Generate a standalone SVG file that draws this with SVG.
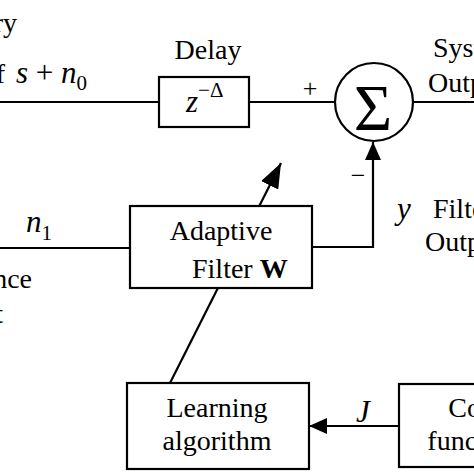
<svg xmlns="http://www.w3.org/2000/svg" width="474" height="474" viewBox="0 0 474 474">
<style>
text{font-family:"Liberation Serif","Times New Roman",Times,"DejaVu Serif",serif;fill:#000}
.t{font-size:28px}
.m{font-size:31px}
.s{font-size:21px}
.i{font-style:italic}
.box{fill:#fff;stroke:#000;stroke-width:2.2}
.ln{fill:none;stroke:#000;stroke-width:2.2}
</style>
<defs>
<marker id="ah" viewBox="0 0 18 16" refX="18" refY="8" markerWidth="18" markerHeight="16" markerUnits="userSpaceOnUse" orient="auto">
<path d="M0,0 L18,8 L0,16 Z" fill="#000"/>
</marker>
<marker id="ahb" viewBox="0 0 25 19" refX="25" refY="9.5" markerWidth="25" markerHeight="19" markerUnits="userSpaceOnUse" orient="auto">
<path d="M0,0 L25,9.5 L0,19 Z" fill="#000"/>
</marker>
</defs>
<rect width="474" height="474" fill="#fff"/>
<g id="connectors">
<line class="ln" x1="0" y1="102" x2="159" y2="102"/>
<line class="ln" x1="249" y1="102" x2="335" y2="102"/>
<line class="ln" x1="413" y1="102" x2="474" y2="102"/>
<line class="ln" x1="0" y1="248" x2="130" y2="248"/>
<polyline class="ln" points="312,247 373,247 373,142" marker-end="url(#ah)"/>
<line class="ln" x1="170" y1="383" x2="281" y2="163" marker-end="url(#ahb)"/>
<line class="ln" x1="399" y1="426" x2="309" y2="426" marker-end="url(#ah)"/>
</g>
<g id="labels">
<text class="t" x="17" y="32" text-anchor="end">Primary</text>
<text class="t" x="5" y="83" text-anchor="end">input of</text>
<text class="m" x="16" y="83"><tspan class="i">s</tspan> + <tspan class="i">n</tspan><tspan class="s" dy="7">0</tspan></text>
<text class="m" x="26" y="232"><tspan class="i">n</tspan><tspan class="s" dy="8">1</tspan></text>
<text class="t" x="32" y="288" text-anchor="end">Reference</text>
<text class="t" x="3" y="323" text-anchor="end">input</text>
<text x="310" y="97" text-anchor="middle" style="font-size:26px">+</text>
<text x="358" y="184" text-anchor="middle" style="font-size:26px">−</text>
<text class="t" x="433" y="57">System</text>
<text class="t" x="428" y="92">Output</text>
<text class="m i" x="397" y="219">y</text>
<text class="t" x="433" y="218">Filter</text>
<text class="t" x="425" y="251">Output</text>
<text class="m i" x="356" y="422">J</text>
</g>
<g id="delay">
<text class="t" x="208" y="59" text-anchor="middle">Delay</text>
<rect class="box" x="159" y="77" width="90" height="50"/>
<text class="m" x="186" y="112"><tspan class="i">z</tspan><tspan class="s" dy="-15">−Δ</tspan></text>
</g>
<g id="sum">
<circle class="box" cx="374" cy="102" r="39"/>
<text x="373" y="130" text-anchor="middle" style="font-size:66px">Σ</text>
</g>
<g id="adaptive-filter">
<rect class="box" x="130" y="206" width="182" height="82"/>
<text class="t" x="221" y="240" text-anchor="middle">Adaptive</text>
<text class="t" x="192" y="278">Filter <tspan font-weight="bold">W</tspan></text>
</g>
<g id="learning">
<rect class="box" x="127" y="383" width="182" height="86"/>
<text class="t" x="217" y="417" text-anchor="middle">Learning</text>
<text class="t" x="217" y="450" text-anchor="middle">algorithm</text>
</g>
<g id="cost">
<rect class="box" x="399" y="384" width="100" height="83"/>
<text class="t" x="474" y="417" text-anchor="middle">Cost</text>
<text class="t" x="474" y="450" text-anchor="middle">function</text>
</g>
</svg>
